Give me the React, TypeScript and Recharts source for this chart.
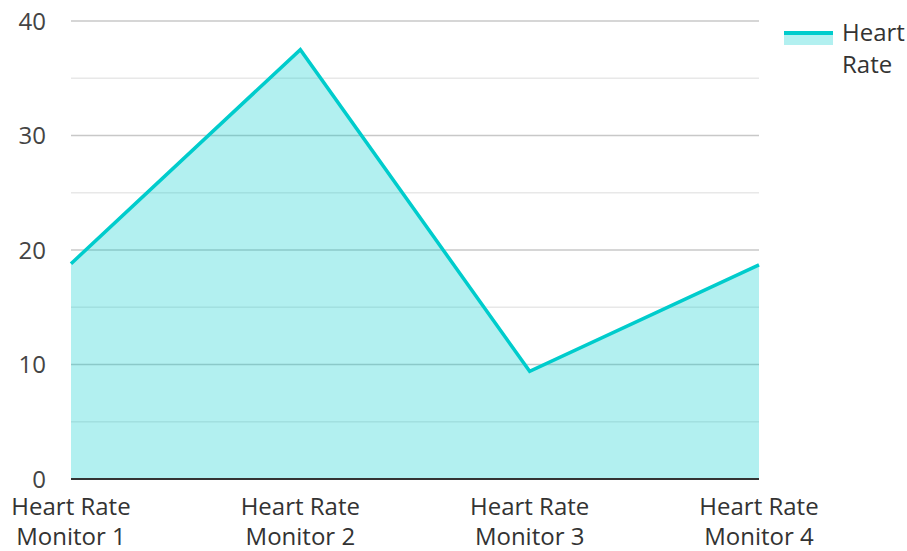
import React from "react";
import { AreaChart, Area, XAxis, YAxis, CartesianGrid } from "recharts";

const monitors = [
  "Heart Rate Monitor 1",
  "Heart Rate Monitor 2",
  "Heart Rate Monitor 3",
  "Heart Rate Monitor 4",
];
const heartRate = [18.8, 37.5, 9.4, 18.7];
const seriesName = "Heart Rate";
const majorTicks = [0, 10, 20, 30, 40];
const minorTicks = [5, 15, 25, 35];

const data = monitors.map((m, i) => ({ name: m, value: heartRate[i] }));

const FONT = "'Open Sans', 'Noto Sans', sans-serif";
const LINE = "#00cccc";

function MonitorTick(props: any) {
  const { x, y, payload } = props;
  const words = String(payload.value).split(" ");
  const first = words.slice(0, 2).join(" ");
  const second = words.slice(2).join(" ");
  return (
    <text x={x} y={y} textAnchor="middle" fill="#333" fontSize={24} fontFamily={FONT}>
      <tspan x={x} dy={36}>{first}</tspan>
      <tspan x={x} dy={30}>{second}</tspan>
    </text>
  );
}

export default function App() {
  return (
    <div style={{ position: "absolute", left: 0, top: 0, width: 907, height: 551, background: "#fff" }}>
      <AreaChart
        width={907}
        height={551}
        data={data}
        margin={{ top: 21, right: 148, left: 0, bottom: 0 }}
      >
        <CartesianGrid
          vertical={false}
          horizontalValues={minorTicks}
          stroke="#e8e8e8"
          strokeWidth={1.5}
        />
        <CartesianGrid
          vertical={false}
          horizontalValues={majorTicks}
          stroke="#c8c8c8"
          strokeWidth={1.5}
        />
        <XAxis
          dataKey="name"
          height={72}
          tickLine={false}
          tickSize={0}
          tickMargin={0}
          axisLine={{ stroke: "#333", strokeWidth: 2 }}
          tick={<MonitorTick />}
          interval={0}
        />
        <YAxis
          width={71}
          domain={[0, 40]}
          ticks={majorTicks}
          axisLine={false}
          tickLine={false}
          tickSize={0}
          tickMargin={25}
          tick={{ fill: "#444", fontSize: 24, fontFamily: FONT }}
        />
        <Area
          type="linear"
          dataKey="value"
          name={seriesName}
          stroke={LINE}
          strokeWidth={3.5}
          fill={LINE}
          fillOpacity={0.3}
          dot={false}
          activeDot={false}
          isAnimationActive={false}
        />
      </AreaChart>
      <div style={{ position: "absolute", left: 784, top: 16, display: "flex", alignItems: "flex-start", fontFamily: FONT }}>
        <div style={{ width: 49, marginTop: 15 }}>
          <div style={{ height: 4, background: LINE }} />
          <div style={{ height: 10, background: LINE, opacity: 0.3 }} />
        </div>
        <div style={{ marginLeft: 9, width: 70, fontSize: 24, lineHeight: "32px", color: "#333" }}>
          {seriesName}
        </div>
      </div>
    </div>
  );
}
